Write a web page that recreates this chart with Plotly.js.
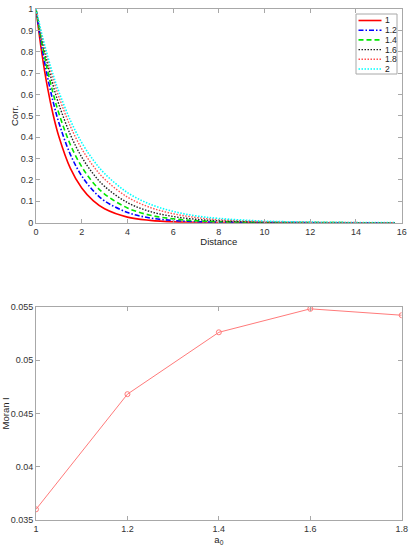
<!DOCTYPE html>
<html>
<head>
<meta charset="utf-8">
<script src="https://cdn.plot.ly/plotly-3.0.1.min.js"></script>
<style>
html,body{margin:0;padding:0;background:#fff;}
#chart{width:414px;height:550px;}
</style>
</head>
<body>
<div id="chart"></div>
<script>
// ---------- data ----------
const distance = [0, 0.25, 0.5, 0.75, 1, 1.5, 2, 2.5, 3, 4, 5, 6, 7, 8, 10, 12, 14, 15.7];
const corr_1   = [1, 0.797, 0.634, 0.505, 0.403, 0.255, 0.162, 0.103, 0.065, 0.026, 0.011, 0.004, 0.0017, 0.0007, 0.0001, 0, 0, 0];
const corr_1_2 = [1, 0.827, 0.684, 0.566, 0.468, 0.320, 0.219, 0.150, 0.102, 0.048, 0.022, 0.0105, 0.0049, 0.0023, 0.0005, 0.0001, 0, 0];
const corr_1_4 = [1, 0.846, 0.715, 0.605, 0.512, 0.366, 0.262, 0.187, 0.134, 0.069, 0.035, 0.018, 0.0092, 0.0047, 0.0012, 0.0003, 0.0001, 0];
const corr_1_6 = [1, 0.863, 0.745, 0.642, 0.554, 0.413, 0.307, 0.229, 0.170, 0.094, 0.052, 0.029, 0.016, 0.0089, 0.0027, 0.0008, 0.0003, 0.0001];
const corr_1_8 = [1, 0.876, 0.767, 0.672, 0.589, 0.452, 0.346, 0.266, 0.204, 0.120, 0.071, 0.042, 0.0245, 0.0144, 0.005, 0.0017, 0.0006, 0.0002];
const corr_2   = [1, 0.885, 0.783, 0.692, 0.613, 0.480, 0.375, 0.294, 0.230, 0.141, 0.086, 0.053, 0.032, 0.020, 0.0074, 0.0028, 0.001, 0.0005];
const seriesNames = ['1', '1.2', '1.4', '1.6', '1.8', '2'];

const a0 = [1, 1.2, 1.4, 1.6, 1.8];
const moranI = [0.0360, 0.0468, 0.0526, 0.0548, 0.0542];
const moranTickVals = [0.035, 0.04, 0.045, 0.05, 0.055];
const moranTickText = ['0.035', '0.04', '0.045', '0.05', '0.055'];

// ---------- styles ----------
const W = 414, H = 550;
const FONT = '"Liberation Sans", Arial, Helvetica, sans-serif';
const styles = [
  {color: '#ff0000', dash: 'solid',                 width: 1.6},
  {color: '#0000ff', dash: '5px,2px,1.5px,2px',     width: 1.6},
  {color: '#00e600', dash: '5px,3px',               width: 1.6},
  {color: '#222222', dash: '1.5px,1.5px',           width: 1.4},
  {color: '#ff5050', dash: '1.5px,1.5px',           width: 1.4},
  {color: '#00ffff', dash: '1.5px,1.5px',           width: 1.6}
];
const corrSeries = [corr_1, corr_1_2, corr_1_4, corr_1_6, corr_1_8, corr_2];

const traces = corrSeries.map((ys, i) => ({
  type: 'scatter', mode: 'lines', x: distance, y: ys, name: seriesNames[i],
  xaxis: 'x', yaxis: 'y', showlegend: false,
  line: {color: styles[i].color, dash: styles[i].dash, width: styles[i].width, shape: 'spline', smoothing: 1}
}));
traces.push({
  type: 'scatter', mode: 'lines+markers', x: a0, y: moranI,
  xaxis: 'x2', yaxis: 'y2', showlegend: false,
  line: {color: '#ff7a7a', width: 1},
  marker: {symbol: 'circle-open', size: 5, color: '#ff7a7a', line: {width: 1, color: '#ff7a7a'}}
});

const px = x => x / W;
const py = y => 1 - y / H;

const axisCommon = {
  showgrid: false, zeroline: false, showline: true, mirror: 'ticks',
  linecolor: '#a8a8a8', linewidth: 1, ticks: 'inside', ticklen: 4,
  tickcolor: '#a8a8a8', tickwidth: 1,
  tickfont: {family: FONT, size: 9, color: '#333333'}
};

// ---------- custom legend built from the series ----------
const shapes = [];
const annotations = [];
const legL = 356, legR = 397, legT = 14, legB = 74;
shapes.push({type: 'rect', xref: 'paper', yref: 'paper',
  x0: px(legL), x1: px(legR), y0: py(legB), y1: py(legT),
  line: {color: '#a8a8a8', width: 1}, fillcolor: '#ffffff', layer: 'above'});
seriesNames.forEach((nm, i) => {
  const yy = 20.5 + i * 9.7;
  shapes.push({type: 'line', xref: 'paper', yref: 'paper',
    x0: px(358.5), x1: px(381.5), y0: py(yy), y1: py(yy),
    line: {color: styles[i].color, dash: styles[i].dash, width: styles[i].width}, layer: 'above'});
  annotations.push({xref: 'paper', yref: 'paper', x: px(383), y: py(yy),
    xanchor: 'left', yanchor: 'middle', showarrow: false, text: nm,
    font: {family: FONT, size: 8.5, color: '#222222'}});
});
// y-axis title of the upper panel
annotations.push({xref: 'paper', yref: 'paper', x: px(14), y: py(115),
  xanchor: 'center', yanchor: 'middle', showarrow: false, text: 'Corr.', textangle: -90,
  font: {family: FONT, size: 9.5, color: '#222222'}});

const layout = {
  width: W, height: H,
  margin: {l: 0, r: 0, t: 0, b: 0},
  paper_bgcolor: '#ffffff', plot_bgcolor: '#ffffff',
  font: {family: FONT, color: '#333333'},
  showlegend: false,
  xaxis: Object.assign({}, axisCommon, {
    domain: [px(36), px(401.7)], anchor: 'y',
    range: [0, 16], tickmode: 'linear', tick0: 0, dtick: 2,
    title: {text: 'Distance', font: {family: FONT, size: 9.5, color: '#222222'}, standoff: 2}
  }),
  yaxis: Object.assign({}, axisCommon, {
    domain: [py(222.7), py(9)], anchor: 'x',
    range: [0, 1], tickmode: 'linear', tick0: 0, dtick: 0.1
  }),
  xaxis2: Object.assign({}, axisCommon, {
    domain: [px(36), px(401.7)], anchor: 'y2',
    range: [1, 1.8], tickmode: 'array', tickvals: a0, ticktext: a0.map(String),
    title: {text: 'a<sub>0</sub>', font: {family: FONT, size: 9.5, color: '#222222'}, standoff: 3}
  }),
  yaxis2: Object.assign({}, axisCommon, {
    domain: [py(520), py(306.7)], anchor: 'x2',
    range: [0.035, 0.055], tickmode: 'array', tickvals: moranTickVals, ticktext: moranTickText,
    title: {text: 'Moran I', font: {family: FONT, size: 9.5, color: '#222222'}, standoff: 3}
  }),
  shapes: shapes,
  annotations: annotations
};

Plotly.newPlot('chart', traces, layout, {displayModeBar: false, staticPlot: true});
</script>
</body>
</html>
